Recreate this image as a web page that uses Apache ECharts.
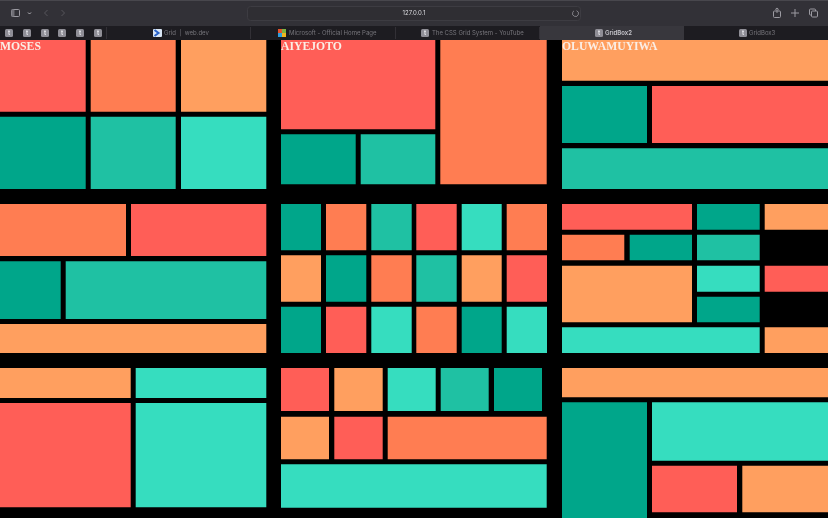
<!DOCTYPE html>
<html>
<head>
<meta charset="utf-8">
<title>GridBox2</title>
<style>
html,body{margin:0;padding:0;background:#000;}
#chart{width:828px;height:518px;}
</style>
<script src="https://cdn.jsdelivr.net/npm/echarts@6/dist/echarts.min.js"></script>
</head>
<body>
<div id="chart"></div>
<script>
// each cell is [left, top, right, bottom] in page pixels
var redCells=[
    [0,40,85.7,111.7],[281,40,435.3,129.3],[652,86,828,143],
    [131,204,266.3,256],[416.3,204,456.7,250.3],[506.7,255.3,547,301.7],[326,306.7,366.3,353],
    [562,204,692,229.7],[764.7,265.7,828,291.7],
    [0,403,130.7,507.3],[281,368,329,411],[334.3,416.7,382.7,459.3],[652,465.7,737,512.3]
];
var coralCells=[
    [90.7,40,175.7,111.7],[440.3,40,546.7,184.3],
    [0,204,126,256],[326,204,366.3,250.3],[506.7,204,547,250.3],[371.3,255.3,411.7,301.7],[416.3,306.7,456.7,353],
    [562,234.7,624.3,260.3],[387.7,416.7,546.7,459.3]
];
var orangeCells=[
    [181,40,266.3,111.7],[562,40,828,80.7],
    [0,324,266.3,353],[281,255.3,321,301.7],[461.7,255.3,501.7,301.7],
    [764.7,204,828,229.7],[562,265.7,692,322.3],[764.7,327.3,828,353],
    [0,368,130.7,398],[334.3,368,382.7,411],[281,416.7,329,459.3],[562,368,828,397.3],[742.3,465.7,828,512.3]
];
var darkCells=[
    [0,116.7,85.7,189],[281,134.3,355.7,184.3],[562,86,647,143],
    [0,261.3,60.7,319],[281,204,321,250.3],[326,255.3,366.3,301.7],[281,306.7,321,353],[461.7,306.7,501.7,353],
    [697,204,759.7,229.7],[629.7,234.7,692,260.3],[697,296.7,759.7,322.3],
    [494,368,542,411],[562,402.3,647,518]
];
var midCells=[
    [90.7,116.7,175.7,189],[360.7,134.3,435.3,184.3],[562,148.3,828,189],
    [65.7,261.3,266.3,319],[371.3,204,411.7,250.3],[416.3,255.3,456.7,301.7],
    [697,234.7,759.7,260.3],[440.7,368,488.7,411]
];
var lightCells=[
    [181,116.7,266.3,189],
    [461.7,204,501.7,250.3],[371.3,306.7,411.7,353],[506.7,306.7,547,353],
    [697,265.7,759.7,291.7],[562,327.3,759.7,353],
    [135.7,368,266.3,398],[135.7,403,266.3,507.3],[387.7,368,435.7,411],[281,464.3,546.7,507.7],[652,402.3,828,460.7]
];
var panelNames=['MOSES','AIYEJOTO','OLUWAMUYIWA'];
var tabNames=['Grid  |  web.dev','Microsoft - Official Home Page','The CSS Grid System - YouTube','GridBox2','GridBox3'];
var addressText='127.0.0.1';

function cellSeries(name,cells,color){
    return {
        name:name,
        type:'custom',
        silent:true,
        renderItem:function(params,api){
            var a=api.coord([api.value(0),api.value(1)]);
            var b=api.coord([api.value(2),api.value(3)]);
            return {
                type:'rect',
                shape:{x:a[0],y:a[1],width:b[0]-a[0],height:b[1]-a[1]},
                style:{fill:color}
            };
        },
        encode:{x:[0,2],y:[1,3]},
        data:cells
    };
}

// browser window around the page
function box(x,y,w,h,fill,r,stroke){
    return {type:'rect',silent:true,shape:{x:x,y:y,width:w,height:h,r:r||0},style:{fill:fill,stroke:stroke||null,lineWidth:stroke?1:0}};
}
function stroke(points,color,width){
    return {type:'polyline',silent:true,shape:{points:points},style:{fill:null,stroke:color,lineWidth:width||1}};
}
function label(text,x,y,color,size,weight,align){
    return {type:'text',silent:true,x:x,y:y,style:{text:text,fill:color,fontSize:size,fontWeight:weight||'normal',
        fontFamily:'Inter, "Noto Sans", sans-serif',textAlign:align||'left',textVerticalAlign:'middle'}};
}
var chrome=[
    box(0,0,828,26,'#323137'),
    box(0,0,828,1,'#48474d'),
    box(0,26,828,14,'#1d1c21'),
    box(540,26,144,14,'#38373d'),
    box(106,27,0.8,12,'#38373d'),
    box(250,27,0.8,12,'#38373d'),
    box(395,27,0.8,12,'#38373d'),
    box(539,27,0.8,12,'#38373d'),
    // address field
    box(247.5,6.5,333,14,'#2f2e33',3,'#3d3c42'),
    label(addressText,414,13.5,'#dcdce0',6,'normal','center'),
    // sidebar icon, back, forward
    box(11.5,9.5,8,7,'none',1,'#9c9ba2'),
    box(11.5,9.5,3,7,'#6f6e75',1),
    stroke([[28,12.5],[29.5,14],[31,12.5]],'#b5b4ba',1),
    stroke([[47.5,10],[44.5,13],[47.5,16]],'#56555b',1),
    stroke([[61.5,10],[64.5,13],[61.5,16]],'#56555b',1),
    // reload
    {type:'arc',silent:true,shape:{cx:575.5,cy:13.5,r:3,startAngle:-1.2,endAngle:4.2},style:{fill:null,stroke:'#a5a4aa',lineWidth:0.7}},
    // share, plus, tabs
    box(773.5,11,7,6.5,'none',1,'#9c9ba2'),
    stroke([[777,13],[777,8]],'#9c9ba2',0.9),
    stroke([[775.2,9.6],[777,8],[778.8,9.6]],'#9c9ba2',0.9),
    stroke([[791,13],[799,13]],'#9c9ba2',1),
    stroke([[795,9],[795,17]],'#9c9ba2',1),
    box(809.5,9,6,6,'none',1,'#9c9ba2'),
    box(811.5,11,6,6,'#323137',1,'#9c9ba2'),
    // tabs
    box(153,29,9,8,'#d9e6f5',1),
    stroke([[154.5,30],[158.5,33],[154.5,36]],'#2a62c8',2),
    label(tabNames[0],164,33.5,'#77767c',6),
    box(278,29,4,4,'#e5532d'),box(282,29,4,4,'#7db343'),box(278,33,4,4,'#2f9fe0'),box(282,33,4,4,'#f3b51d'),
    label(tabNames[1],289,33.5,'#77767c',6),
    label(tabNames[2],432,33.5,'#77767c',6),
    label(tabNames[3],605,33.5,'#c9c8ce',6,'600'),
    label(tabNames[4],749,33.5,'#77767c',6)
];
// small grey favicons with a light glyph
[5,23,41,58,76,94,421,595,739].forEach(function(x){
    chrome.push(box(x,29,8,8,'#8f8e96',1.5));
    chrome.push(label('t',x+4,33.2,'#e6e6ea',6,'bold','center'));
});

// panel headings sit on top of the cells
var headingX=[0,281,562];
panelNames.forEach(function(name,i){
    chrome.push({type:'text',silent:true,x:headingX[i],y:46.5,z:10,style:{text:name,fill:'#fbeee6',fontSize:11.7,fontWeight:'bold',
        fontFamily:'"Liberation Serif", serif',textVerticalAlign:'middle'}});
});

var myChart=echarts.init(document.getElementById('chart'),null,{renderer:'canvas'});
myChart.setOption({
    backgroundColor:'#000',
    animation:false,
    grid:{left:0,right:0,top:0,bottom:0},
    xAxis:{type:'value',min:0,max:828,show:false},
    yAxis:{type:'value',min:0,max:518,inverse:true,show:false},
    series:[
        cellSeries('red',redCells,'#ff5e57'),
        cellSeries('coral',coralCells,'#ff7d52'),
        cellSeries('orange',orangeCells,'#ff9f5f'),
        cellSeries('dark',darkCells,'#00a68a'),
        cellSeries('mid',midCells,'#1fc1a3'),
        cellSeries('light',lightCells,'#36ddbf')
    ],
    graphic:chrome
});
</script>
</body>
</html>
